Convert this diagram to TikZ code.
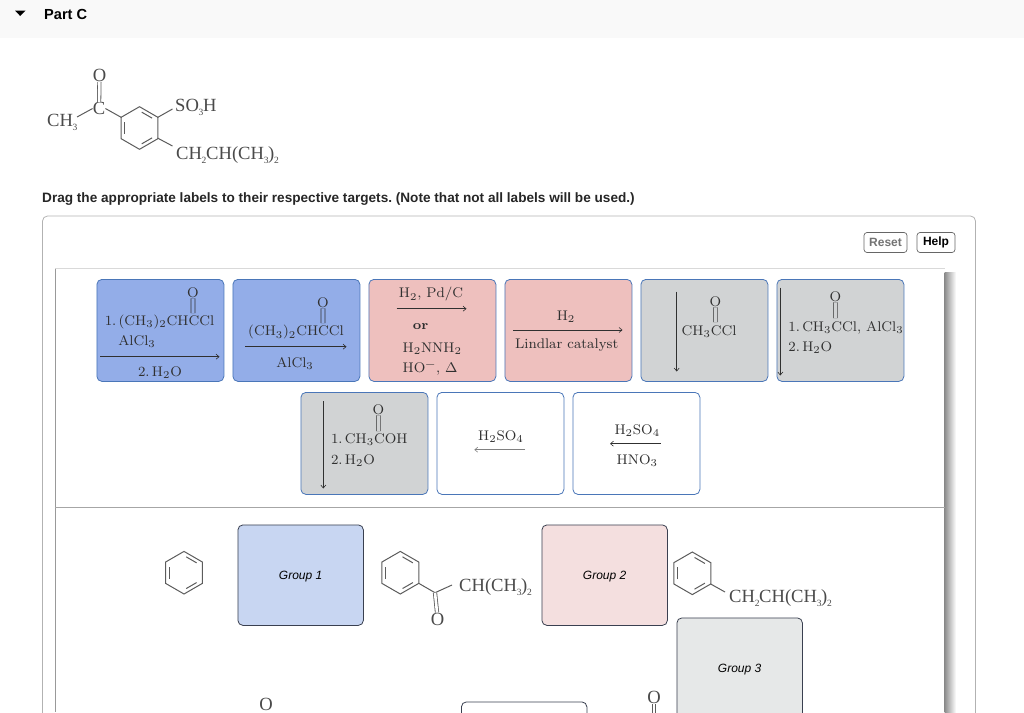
\documentclass[tikz,border=0pt]{standalone}
\usepackage{fontspec}
\setmainfont{Liberation Sans}
\newfontfamily\cardfont{Latin Modern Roman}
\newfontfamily\molfont{Liberation Serif}
\usepackage{xcolor}
\usepackage{tikz}
\usetikzlibrary{arrows.meta, positioning}
\definecolor{cardblue}{HTML}{93ADE8}
\definecolor{cardpink}{HTML}{EEC0BE}
\definecolor{cardgrey}{HTML}{D1D3D4}
\definecolor{cardline}{HTML}{4A76B8}
\definecolor{groupline}{HTML}{3A4050}
\definecolor{groupblue}{HTML}{C8D6F2}
\definecolor{grouppink}{HTML}{F4DFDF}
\definecolor{groupgrey}{HTML}{E6E8E8}
\definecolor{inkgrey}{HTML}{303030}
\definecolor{molgrey}{HTML}{4A4A4A}
\definecolor{bondgrey}{HTML}{5C5C5C}
\newcommand{\sub}[1]{\textsubscript{#1}}
\newcommand{\msub}[1]{\kern-0.3pt\raisebox{-4pt}{\fontsize{9.5}{10}\selectfont #1}\kern-0.3pt}
\newcommand{\grouptext}[1]{\raisebox{-4.5pt}[0pt][0pt]{#1}}

\begin{document}
\begin{tikzpicture}[x=1pt,y=-1pt]
	\tikzstyle{card} = [rectangle, rounded corners=5pt, anchor=north west, minimum width=127pt, minimum height=102pt, draw=cardline, line width=0.8pt, inner sep=0pt]
	\tikzstyle{group} = [rectangle, rounded corners=5pt, anchor=north west, minimum width=125.5pt, minimum height=100.5pt, draw=groupline, line width=0.8pt, inner sep=0pt, font=\fontsize{12}{14}\selectfont\itshape]
	\tikzstyle{button} = [rectangle, rounded corners=3pt, draw=black!60, line width=0.7pt, inner sep=0pt, minimum height=20pt, font=\fontsize{12}{14}\selectfont\bfseries]
	\tikzstyle{reagent} = [inner sep=0pt, yshift=-1.4pt, scale=1.75, transform shape, text=inkgrey, font=\cardfont\fontsize{8}{10}\selectfont]
	\tikzstyle{mol} = [inner sep=0pt, text=molgrey, font=\molfont\fontsize{18.6}{20}\selectfont]
	\tikzstyle{arrow} = [inkgrey, line width=0.6pt, -{Straight Barb[length=3pt,width=5pt]}]
	\tikzstyle{bond} = [bondgrey, line width=1pt]
	\tikzstyle{dbond} = [bondgrey, line width=0.8pt, double=white, double distance=2.6pt]
	\tikzstyle{carbonyl} = [inkgrey, line width=0.6pt, double distance=3.4pt]
	\tikzset{benzene/.pic={
		\draw [bond] (30:21.3) -- (90:21.3) -- (150:21.3) -- (210:21.3) -- (270:21.3) -- (330:21.3) -- cycle;
		\draw [bond] (38:16) -- (82:16);
		\draw [bond] (158:16) -- (202:16);
		\draw [bond] (278:16) -- (322:16);
	}}

	\useasboundingbox (0,0) rectangle (1024,712);
	\clip (0,0) rectangle (1024,712);

	% page frame
	\fill [black!2.5] (0,0) rectangle (1024,37.5);
	\fill (15,10.5) -- (25.5,10.5) -- (20.2,16) -- cycle;
	\node (part) [anchor=west, inner sep=0pt, font=\fontsize{14.6}{16}\selectfont\bfseries] at (44,14) {Part C};
	\node (drag) [anchor=west, inner sep=0pt, text=black!85, font=\frenchspacing\fontsize{13.6}{15}\selectfont\bfseries] at (42,199) {Drag the appropriate labels to their respective targets. (Note that not all labels will be used.)};
	\draw [black!30, line width=0.8pt, rounded corners=5pt] (42.5,730) -- (42.5,216) -- (975.5,216) -- (975.5,730);
	\node (reset) [button, minimum width=43pt, text=black!55] at (885.5,242.5) {Reset};
	\node (help) [button, minimum width=38pt] at (936,242.5) {Help};
	\shade [left color=black!45, right color=white] (944.5,272) rectangle (956,712);
	\draw [black!15, line width=0.8pt] (55,268.5) -- (944.5,268.5);
	\draw [black!40, line width=0.8pt] (55,268.5) -- (55,712);
	\draw [black!35, line width=0.8pt] (55,507.5) -- (944.5,507.5);

	% target compound
	\node (topo) [mol] at (99.5,75.5) {O};
	\node (topc) [mol] at (99,108.5) {C};
	\node (topme) [mol, anchor=west] at (47,122.5) {CH\msub{3}};
	\node (topsul) [mol, anchor=west] at (175,107.5) {SO\msub{3}H};
	\node (topalk) [mol, anchor=west] at (176,155) {CH\msub{2}CH(CH\msub{3})\msub{2}};
	\pic at (139.5,128) {benzene};
	\coordinate (toprc) at (121.5,117.5);
	\coordinate (toprs) at (157.5,117.5);
	\coordinate (topra) at (157.5,138);
	\coordinate (topmeb) at (77,117);
	\coordinate (topalkb) at (172.5,146);
	\coordinate (topsulb) at (172.5,109);
	\draw [dbond] (topo) -- (topc);
	\draw [bond] (topmeb) -- (topc.west);
	\draw [bond] (topc.east) -- (toprc);
	\draw [bond] (toprs) -- (topsulb);
	\draw [bond] (topra) -- (topalkb);

	% labels, first row
	\node (carda) [card, fill=cardblue] at (96.5,279) {};
	\node (cardb) [card, fill=cardblue] at (232.5,279) {};
	\node (cardc) [card, fill=cardpink] at (368.5,279) {};
	\node (cardd) [card, fill=cardpink] at (504.5,279) {};
	\node (carde) [card, fill=cardgrey] at (640.5,279) {};
	\node (cardf) [card, fill=cardgrey] at (776.5,279) {};

	\node (ao) [reagent] at (193,291.5) {O};
	\coordinate (ac) at (193,313);
	\node (atext) [reagent] at (159.5,320.5) {1.\,(CH\sub{3})\sub{2}CHCCl};
	\node (acat) [reagent] at (137,340.5) {AlCl\sub{3}};
	\node (awater) [reagent] at (160,371) {2.\,H\sub{2}O};
	\coordinate (aleft) at (100,356.7);
	\coordinate (aright) at (219.5,356.7);
	\draw [carbonyl, double=cardblue] (ao) -- (ac);
	\draw [arrow] (aleft) -- (aright);

	\node (bo) [reagent] at (323,301.5) {O};
	\coordinate (bc) at (323,323);
	\node (btext) [reagent] at (296,331) {(CH\sub{3})\sub{2}CHCCl};
	\node (bcat) [reagent] at (295,362) {AlCl\sub{3}};
	\coordinate (bleft) at (245,346.7);
	\coordinate (bright) at (346.5,346.7);
	\draw [carbonyl, double=cardblue] (bo) -- (bc);
	\draw [arrow] (bleft) -- (bright);

	\node (chyd) [reagent] at (431,293) {H\sub{2}, Pd/C};
	\node (cor) [reagent, font=\cardfont\fontsize{7.5}{10}\selectfont\bfseries] at (420.7,325.5) {or};
	\node (chyz) [reagent, anchor=west] at (402.3,347) {H\sub{2}NNH\sub{2}};
	\node (cbase) [reagent, anchor=west] at (402.3,367) {HO\textsuperscript{−}, Δ};
	\coordinate (cleft) at (396.7,308.7);
	\coordinate (cright) at (466.5,308.7);
	\draw [arrow] (cleft) -- (cright);

	\node (dhyd) [reagent] at (566,315.5) {H\sub{2}};
	\node (dcat) [reagent] at (566.7,344) {Lindlar catalyst};
	\coordinate (dleft) at (513,330);
	\coordinate (dright) at (622.5,330);
	\draw [arrow] (dleft) -- (dright);

	\node (eo) [reagent] at (715.3,300.5) {O};
	\coordinate (ec) at (715.3,322);
	\node (etext) [reagent] at (709,330) {CH\sub{3}CCl};
	\coordinate (etop) at (676.7,291.7);
	\coordinate (ebot) at (676.7,371.5);
	\draw [carbonyl, double=cardgrey] (eo) -- (ec);
	\draw [arrow] (etop) -- (ebot);

	\node (fo) [reagent] at (835.3,295.5) {O};
	\coordinate (fc) at (835.3,318);
	\node (ftext) [reagent, anchor=west] at (788,326) {1.\,CH\sub{3}CCl, AlCl\sub{3}};
	\node (fwater) [reagent, anchor=west] at (788,346.5) {2.\,H\sub{2}O};
	\coordinate (ftop) at (780.3,287.5);
	\coordinate (fbot) at (780.3,375.5);
	\draw [carbonyl, double=cardgrey] (fo) -- (fc);
	\draw [arrow] (ftop) -- (fbot);

	% labels, second row
	\node (cardg) [card, fill=cardgrey] at (300.5,392) {};
	\node (cardh) [card, fill=white] at (436.5,392) {};
	\node (cardi) [card, fill=white] at (572.5,392) {};

	\node (go) [reagent] at (378.3,408.5) {O};
	\coordinate (gc) at (378.3,431);
	\node (gtext) [reagent, anchor=west] at (330.7,438) {1.\,CH\sub{3}COH};
	\node (gwater) [reagent, anchor=west] at (330.7,459.5) {2.\,H\sub{2}O};
	\coordinate (gtop) at (323.3,401);
	\coordinate (gbot) at (323.3,488.5);
	\draw [carbonyl, double=cardgrey] (go) -- (gc);
	\draw [arrow] (gtop) -- (gbot);

	\node (hacid) [reagent] at (501,435.5) {H\sub{2}SO\sub{4}};
	\coordinate (hright) at (525,449.7);
	\coordinate (hleft) at (474.3,449.7);
	\draw [arrow, black!50] (hright) -- (hleft);

	\node (iacid) [reagent] at (637.3,429) {H\sub{2}SO\sub{4}};
	\node (initric) [reagent] at (637.3,459) {HNO\sub{3}};
	\coordinate (iright) at (660.7,443.7);
	\coordinate (ileft) at (610,443.7);
	\draw [arrow] (iright) -- (ileft);

	% targets
	\node (groupa) [group, fill=groupblue] at (237.5,524.5) {\grouptext{Group 1}};
	\node (groupb) [group, fill=grouppink] at (541.5,524.5) {\grouptext{Group 2}};
	\node (groupc) [group, fill=groupgrey] at (676.5,617.5) {\grouptext{Group 3}};
	\node (blank) [group, fill=white] at (461,701.5) {};

	% scheme molecules
	\pic at (184,572.7) {benzene};

	\pic at (400.3,572.7) {benzene};
	\coordinate (ketr) at (418.7,583.3);
	\coordinate (ketc) at (435,592.7);
	\coordinate (kete) at (452,585);
	\node (keto) [mol] at (437.7,619) {O};
	\node (ketalk) [mol, anchor=west] at (459,587) {CH(CH\msub{3})\msub{2}};
	\draw [bond] (ketr) -- (ketc) -- (kete);
	\draw [dbond] (ketc) -- (keto);

	\pic at (692.3,573.3) {benzene};
	\coordinate (alkr) at (710.7,584);
	\coordinate (alke) at (725,592);
	\node (alkyl) [mol, anchor=west] at (729,598) {CH\msub{2}CH(CH\msub{3})\msub{2}};
	\draw [bond] (alkr) -- (alke);

	\node (lowa) [mol] at (266,704) {O};
	\node (lowb) [mol] at (654,697.5) {O};
	\coordinate (lowc) at (654,720);
	\draw [dbond] (lowb) -- (lowc);
\end{tikzpicture}
\end{document}
